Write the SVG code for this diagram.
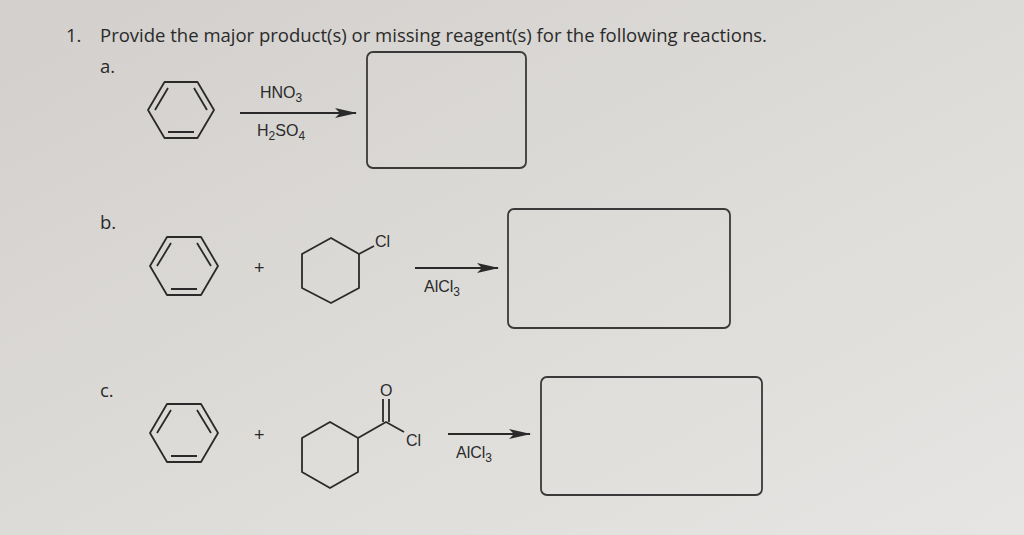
<svg xmlns="http://www.w3.org/2000/svg" width="1024" height="535" viewBox="0 0 1024 535">
<defs>
<linearGradient id="bg" x1="0" y1="0" x2="1" y2="1"><stop offset="0" stop-color="#d2cfcc"/><stop offset="0.5" stop-color="#dddbd8"/><stop offset="1" stop-color="#e6e5e3"/></linearGradient>
<marker id="ah" markerWidth="22" markerHeight="10" refX="21" refY="5" orient="auto" markerUnits="userSpaceOnUse"><path d="M0,0 L22,5 L0,10 L5,5 Z" fill="#2a2a2a"/></marker>
<style>
.l{stroke:#2a2a2a;stroke-width:1.8;fill:none;stroke-linejoin:round}
.box{stroke:#3a3a3a;stroke-width:1.8;fill:none}
.t{font-family:"Liberation Sans",Arial,sans-serif;fill:#2a2a2a;font-size:16px}
.p{font-family:"Liberation Sans",Arial,sans-serif;fill:#2a2a2a;font-size:18px}
.h{font-family:"Open Sans","Liberation Sans",sans-serif;fill:#2a2a2a;font-size:18.5px}
</style>
</defs>
<rect width="1024" height="535" fill="url(#bg)"/>
<text class="h" x="66" y="42">1.</text>
<text class="h" x="100" y="42">Provide the major product(s) or missing reagent(s) for the following reactions.</text>
<text class="h" x="100" y="73">a.</text>
<text class="h" x="100" y="229">b.</text>
<text class="h" x="100" y="397">c.</text>
<g id="benzene-a" transform="translate(181,110)">
<polygon class="l" points="-33,0 -16.5,-28 16.5,-28 33,0 16.5,28 -16.5,28"/>
<path class="l" d="M-26,0 L-13,-22 M13,-22 L26,0 M-13,22 L13,22"/>
</g>
<g id="benzene-b" transform="translate(184,266)">
<polygon class="l" points="-34,0 -17,-29 17,-29 34,0 17,29 -17,29"/>
<path class="l" d="M-27,0 L-13,-23 M13,-23 L27,0 M-13,23 L13,23"/>
</g>
<g id="benzene-c" transform="translate(184,433)">
<polygon class="l" points="-34,0 -17,-29 17,-29 34,0 17,29 -17,29"/>
<path class="l" d="M-27,0 L-13,-23 M13,-23 L27,0 M-13,23 L13,23"/>
</g>
<g id="chlorocyclohexane">
<polygon class="l" points="331,238 359,254 359,288 331,303 302,288 302,254"/>
<path class="l" d="M359,254 L374,246"/>
<text class="t" x="375" y="247">Cl</text>
</g>
<g id="acyl-chloride">
<polygon class="l" points="330,422 358,438 358,472 330,488 302,472 302,438"/>
<path class="l" d="M358,438 L386,422 L404,432 M383,422 L383,399 M389,422 L389,399"/>
<text class="t" x="380" y="396">O</text>
<text class="t" x="406" y="446">Cl</text>
</g>
<text class="p" x="254" y="274">+</text>
<text class="p" x="254" y="441">+</text>
<g id="connectors">
<path class="l" d="M240,113 L356,113" marker-end="url(#ah)"/>
<path class="l" d="M415,268 L498,268" marker-end="url(#ah)"/>
<path class="l" d="M448,434 L530,434" marker-end="url(#ah)"/>
</g>
<text class="t" x="260" y="98">HNO<tspan font-size="12" dy="4">3</tspan></text>
<text class="t" x="257" y="136">H<tspan font-size="12" dy="4">2</tspan><tspan dy="-4">SO</tspan><tspan font-size="12" dy="4">4</tspan></text>
<text class="t" x="424" y="292">AlCl<tspan font-size="12" dy="4">3</tspan></text>
<text class="t" x="456" y="458">AlCl<tspan font-size="12" dy="4">3</tspan></text>
<rect id="box-a" class="box" x="367" y="52" width="159" height="116" rx="6"/>
<rect id="box-b" class="box" x="508" y="209" width="222" height="119" rx="6"/>
<rect id="box-c" class="box" x="541" y="377" width="221" height="118" rx="6"/>
</svg>
